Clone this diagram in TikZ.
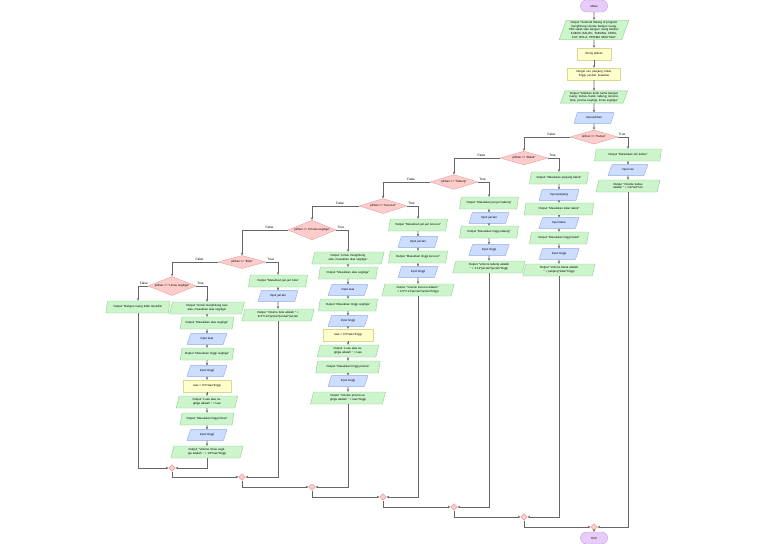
\documentclass[tikz,border=0pt]{standalone}
\usepackage{fontspec}
\setmainfont{Liberation Sans}
\usetikzlibrary{shapes.geometric,shapes.misc,arrows.meta}
\definecolor{gf}{HTML}{CCF5CC}\definecolor{gd}{HTML}{8FCC8F}
\definecolor{bf}{HTML}{CCDDFF}\definecolor{bd}{HTML}{8FA8DD}
\definecolor{yf}{HTML}{FFFFCC}\definecolor{yd}{HTML}{D8D890}
\definecolor{rf}{HTML}{FFCCCC}\definecolor{rd}{HTML}{E0A0A0}
\definecolor{pf}{HTML}{E8CCF8}\definecolor{pd}{HTML}{C8A0E0}
\begin{document}
\begin{tikzpicture}[x=0.75pt,y=-0.75pt,
 every node/.style={font=\fontsize{2.2}{2.8}\selectfont, align=center, inner sep=0.8pt},
 io/.style={trapezium, trapezium left angle=70, trapezium right angle=110, trapezium stretches=true, fill=gf, draw=gd, line width=0.3pt, text width=#1, minimum height=9pt},
 inp/.style={trapezium, trapezium left angle=70, trapezium right angle=110, trapezium stretches=true, fill=bf, draw=bd, line width=0.3pt, minimum width=30pt, minimum height=8pt},
 pr/.style={rectangle, fill=yf, draw=yd, line width=0.3pt, text width=#1, minimum height=9pt},
 dec/.style={diamond, aspect=2.1, fill=rf, draw=rd, line width=0.3pt, minimum width=36pt, inner sep=0pt},
 mg/.style={diamond, fill=rf, draw=rd, line width=0.3pt, minimum width=5pt, minimum height=5pt, inner sep=0pt},
 term/.style={rounded rectangle, fill=pf, draw=pd, line width=0.3pt, minimum width=22pt, minimum height=9pt},
 lab/.style={font=\fontsize{2.4}{3}\selectfont, inner sep=1pt},
 ar/.style={draw=gray!80!black, line width=0.45pt, -{Stealth[length=2pt,width=1.8pt]}}]
\useasboundingbox (0,0) rectangle (768,543);
% main column
\node[term] (start) at (594,6) {Mulai};
\node[io=40pt] (o1) at (594,30) {Output "Selamat datang di program menghitung volume bangun ruang. Pilih salah satu bangun ruang berikut: KUBUS, BALOK, TABUNG, KERUCUT, BOLA, PRISMA SEGITIGA"};
\node[pr=24pt] (p1) at (594,54) {String pilihan};
\node[pr=38pt] (p2) at (594,74) {Integer sisi, panjang, lebar, tinggi, jariJari, luasAlas};
\node[io=42pt] (o2) at (594,97) {Output "Silahkan ketik nama bangun ruang: kubus, balok, tabung, kerucut, bola, prisma segitiga, limas segitiga"};
\node[inp] (i0) at (594,118) {Input pilihan};
\node[dec] (d1) at (594,137) {pilihan == "Kubus"};
\node[dec] (d2) at (524,158) {pilihan == "Balok"};
\node[dec] (d3) at (454,182) {pilihan == "Tabung"};
\node[dec] (d4) at (383,206) {pilihan == "Kerucut"};
\node[dec] (d5) at (312,230) {pilihan == "Prisma segitiga"};
\node[dec] (d6) at (242,262) {pilihan == "Bola"};
\node[dec] (d7) at (172,286) {pilihan == "Limas segitiga"};
\draw[ar] (start)--(o1); \draw[ar] (o1)--(p1); \draw[ar] (p1)--(p2); \draw[ar] (p2)--(o2); \draw[ar] (o2)--(i0); \draw[ar] (i0)--(d1);
% col 1 x=628
\node[io=46pt] (a1) at (628,155) {Output "Masukkan sisi kubus"};
\node[inp] (a2) at (628,170) {Input sisi};
\node[io=42pt] (a3) at (628,186) {Output "Volume kubus adalah " + sisi*sisi*sisi};
% col 2 x=559
\node[io=40pt] (b1) at (559,178) {Output "Masukkan panjang balok"};
\node[inp] (b2) at (559,195) {Input panjang};
\node[io=48pt] (b3) at (559,209) {Output "Masukkan lebar balok"};
\node[inp] (b4) at (559,223) {Input lebar};
\node[io=40pt] (b5) at (559,238) {Output "Masukkan tinggi balok"};
\node[inp] (b6) at (559,254) {Input tinggi};
\node[io=48pt] (b7) at (559,270) {Output "Volume balok adalah " + panjang*lebar*tinggi};
% col 3 x=489
\node[io=40pt] (c1) at (489,203) {Output "Masukkan jari-jari tabung"};
\node[inp] (c2) at (489,218) {Input jariJari};
\node[io=40pt] (c3) at (489,232) {Output "Masukkan tinggi tabung"};
\node[inp] (c4) at (489,250) {Input tinggi};
\node[io=48pt] (c5) at (489,267) {Output "Volume tabung adalah " + 3.14*jariJari*jariJari*tinggi};
% col 4 x=418
\node[io=40pt] (e1) at (418,225) {Output "Masukkan jari-jari kerucut"};
\node[inp] (e2) at (418,242) {Input jariJari};
\node[io=40pt] (e3) at (418,257) {Output "Masukkan tinggi kerucut"};
\node[inp] (e4) at (418,272) {Input tinggi};
\node[io=48pt] (e5) at (418,290) {Output "Volume kerucut adalah " + 1/3*3.14*jariJari*jariJari*tinggi};
% col 5 x=348
\node[io=48pt] (f1) at (348,258) {Output "Untuk menghitung alas, masukkan alas segitiga"};
\node[io=40pt] (f2) at (348,273) {Output "Masukkan alas segitiga"};
\node[inp] (f3) at (348,290) {Input alas};
\node[io=40pt] (f4) at (348,305) {Output "Masukkan tinggi segitiga"};
\node[inp] (f5) at (348,321) {Input tinggi};
\node[pr=36pt] (f6) at (348,335) {luas = 0.5*alas*tinggi};
\node[io=40pt] (f7) at (348,351) {Output "Luas alas segitiga adalah " + luas};
\node[io=44pt] (f8) at (348,367) {Output "Masukkan tinggi prisma"};
\node[inp] (f9) at (348,381) {Input tinggi};
\node[io=50pt] (f10) at (348,398) {Output "Volume prisma segitiga adalah " + luas*tinggi};
% col 6 x=278
\node[io=40pt] (g1) at (278,281) {Output "Masukkan jari-jari bola"};
\node[inp] (g2) at (278,296) {Input jariJari};
\node[io=48pt] (g3) at (278,315) {Output "Volume bola adalah " + 4/3*3.14*jariJari*jariJari*jariJari};
% col 7 x=207
\node[io=50pt] (h1) at (207,308) {Output "Untuk menghitung luas alas, masukkan alas segitiga"};
\node[io=36pt] (h2) at (207,323) {Output "Masukkan alas segitiga"};
\node[inp] (h3) at (207,339) {Input alas};
\node[io=36pt] (h4) at (207,354) {Output "Masukkan tinggi segitiga"};
\node[inp] (h5) at (207,371) {Input tinggi};
\node[pr=34pt] (h6) at (207,386) {luas = 0.5*alas*tinggi};
\node[io=40pt] (h7) at (207,402) {Output "Luas alas segitiga adalah " + luas};
\node[io=36pt] (h8) at (207,419) {Output "Masukkan tinggi limas"};
\node[inp] (h9) at (207,435) {Input tinggi};
\node[io=48pt] (h10) at (207,452) {Output "Volume limas segitiga adalah " + 1/3*luas*tinggi};
% col 8 x=138
\node[io=44pt] (k1) at (138,307) {Output "Bangun ruang tidak tersedia"};
% merges
\node[mg] (m1) at (172,468) {}; \node[mg] (m2) at (242,477) {}; \node[mg] (m3) at (312,487) {};
\node[mg] (m4) at (383,497) {}; \node[mg] (m5) at (454,507) {}; \node[mg] (m6) at (524,517) {};
\node[mg] (m7) at (594,527) {};
\node[term] (end) at (594,538) {End};
% decision branches
\draw[ar] (d1.east) -| node[lab,pos=0.2,above]{True} (a1.north);
\draw[ar] (d1.west) -| node[lab,pos=0.2,above]{False} (d2.north);
\draw[ar] (d2.east) -| node[lab,pos=0.2,above]{True} (b1.north);
\draw[ar] (d2.west) -| node[lab,pos=0.2,above]{False} (d3.north);
\draw[ar] (d3.east) -| node[lab,pos=0.2,above]{True} (c1.north);
\draw[ar] (d3.west) -| node[lab,pos=0.2,above]{False} (d4.north);
\draw[ar] (d4.east) -| node[lab,pos=0.2,above]{True} (e1.north);
\draw[ar] (d4.west) -| node[lab,pos=0.2,above]{False} (d5.north);
\draw[ar] (d5.east) -| node[lab,pos=0.2,above]{True} (f1.north);
\draw[ar] (d5.west) -| node[lab,pos=0.2,above]{False} (d6.north);
\draw[ar] (d6.east) -| node[lab,pos=0.2,above]{True} (g1.north);
\draw[ar] (d6.west) -| node[lab,pos=0.2,above]{False} (d7.north);
\draw[ar] (d7.east) -| node[lab,pos=0.2,above]{True} (h1.north);
\draw[ar] (d7.west) -| node[lab,pos=0.2,above]{False} (k1.north);
% chains
\foreach \p/\q in {a1/a2,a2/a3,b1/b2,b2/b3,b3/b4,b4/b5,b5/b6,b6/b7,c1/c2,c2/c3,c3/c4,c4/c5,e1/e2,e2/e3,e3/e4,e4/e5,f1/f2,f2/f3,f3/f4,f4/f5,f5/f6,f6/f7,f7/f8,f8/f9,f9/f10,g1/g2,g2/g3,h1/h2,h2/h3,h3/h4,h4/h5,h5/h6,h6/h7,h7/h8,h8/h9,h9/h10}
  \draw[ar] (\p)--(\q);
% merging
\draw[ar] (k1.south) |- (m1.west); \draw[ar] (h10.south) |- (m1.east);
\draw[ar] (m1.south) |- (m2.west); \draw[ar] (g3.south) |- (m2.east);
\draw[ar] (m2.south) |- (m3.west); \draw[ar] (f10.south) |- (m3.east);
\draw[ar] (m3.south) |- (m4.west); \draw[ar] (e5.south) |- (m4.east);
\draw[ar] (m4.south) |- (m5.west); \draw[ar] (c5.south) |- (m5.east);
\draw[ar] (m5.south) |- (m6.west); \draw[ar] (b7.south) |- (m6.east);
\draw[ar] (m6.south) |- (m7.west); \draw[ar] (a3.south) |- (m7.east);
\draw[ar] (m7)--(end);
\end{tikzpicture}
\end{document}
